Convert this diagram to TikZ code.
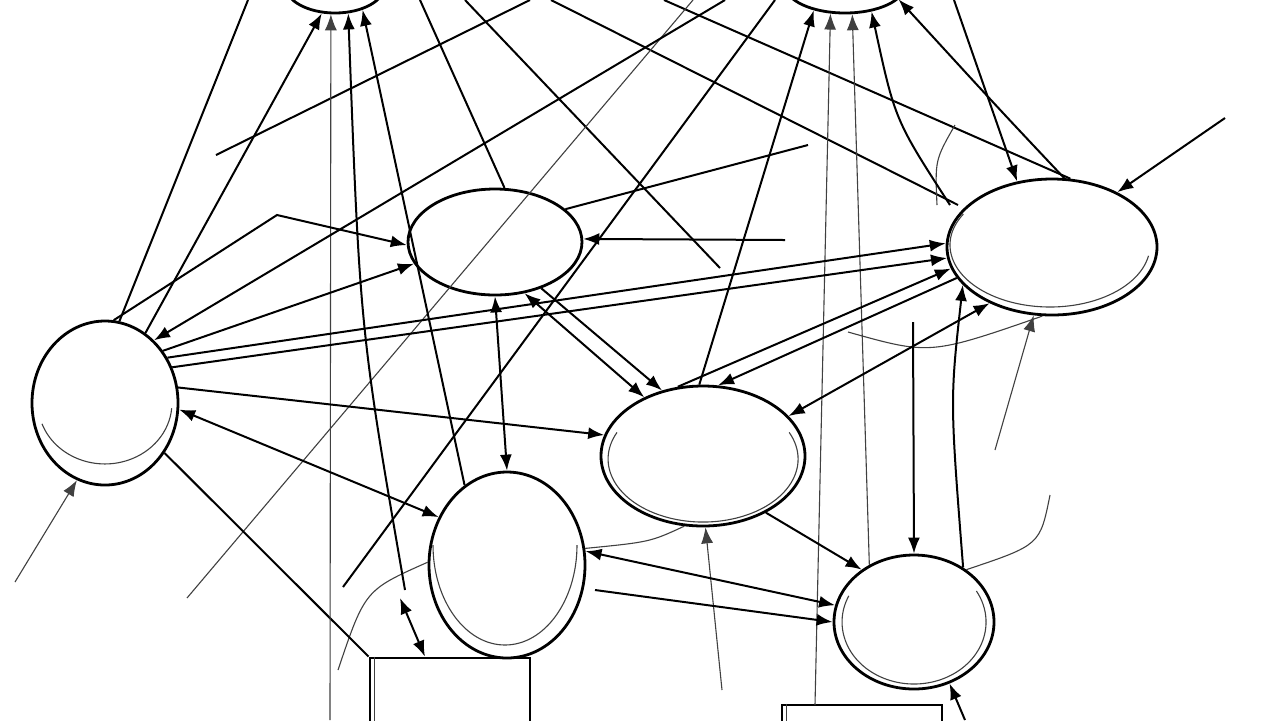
\documentclass[tikz,border=0pt]{standalone}
\usepackage{tikz}
\usetikzlibrary{shapes.geometric,arrows.meta}

\tikzset{
  state/.style={ellipse, draw, line width=1.4pt, inner sep=0pt},
  box/.style={rectangle, draw, line width=1.4pt, inner sep=0pt},
  wire/.style={line width=1pt},
  faint/.style={line width=0.55pt, black!75},
  inner/.style={line width=0.55pt, black!75},
  >={Latex[length=8pt,width=6pt]}
}

\begin{document}
\begin{tikzpicture}[x=0.5pt,y=-0.5pt]
				\clip (0,0) rectangle (1280,720);
				\fill[white] (0,0) rectangle (1280,720);

				% the states
				\node [state, minimum width=50pt, minimum height=28pt]  (A) at (335,-15)  {};
				\node [state, minimum width=60pt, minimum height=28pt]  (B) at (845,-15)  {};
				\node [state, minimum width=87pt, minimum height=53pt]  (C) at (495,242)  {};
				\node [state, minimum width=105pt, minimum height=68pt] (D) at (1052,247) {};
				\node [state, minimum width=73pt, minimum height=82pt]  (E) at (105,403)  {};
				\node [state, minimum width=102pt, minimum height=70pt] (F) at (703,456)  {};
				\node [state, minimum width=78pt, minimum height=93pt]  (G) at (507,565)  {};
				\node [state, minimum width=80pt, minimum height=67pt]  (H) at (914,622)  {};
				\node [box, minimum width=80pt, minimum height=42pt]    (box1) at (450,700) {};
				\node [box, minimum width=80pt, minimum height=40pt]    (box2) at (862,745) {};

				% sketchy inner rims
				\draw [inner] ([shift={(-31.5pt,-10.4pt)}]E.center) arc [start angle=200, end angle=355, x radius=33.5pt, y radius=30.5pt];
				\draw [inner] ([shift={(-37pt,10pt)}]G.center) arc [start angle=180, end angle=360, x radius=36pt, y radius=50pt];
				\draw [inner] ([shift={(-43pt,11.8pt)}]F.center) arc [start angle=155, end angle=385, x radius=47.5pt, y radius=31.5pt];
				\draw [inner] ([shift={(-32.6pt,13.1pt)}]H.center) arc [start angle=155, end angle=390, x radius=36pt, y radius=31pt];
				\draw [inner] ([shift={(-44.3pt,16.5pt)}]D.center) arc [start angle=150, end angle=350, x radius=50pt, y radius=31pt];
				\draw [inner] ([xshift=3pt]box1.north west) -- ([xshift=3pt]box1.south west);
				\draw [inner] ([xshift=3pt]box2.north west) -- ([xshift=3pt]box2.south west);

				% loose ends
				\coordinate (l1)   at (248,0);
				\coordinate (bend) at (277,215);
				\coordinate (tE)   at (725,0);
				\coordinate (inE)  at (15,582);
				\coordinate (bot1) at (330,720);
				\coordinate (k1)   at (405,590);
				\coordinate (k2)   at (400,598);
				\coordinate (t1)   at (216,155);
				\coordinate (t2)   at (530,0);
				\coordinate (t3)   at (420,0);
				\coordinate (t4)   at (465,0);
				\coordinate (t5)   at (720,268);
				\coordinate (t6)   at (551,0);
				\coordinate (t7)   at (958,205);
				\coordinate (t8)   at (664,0);
				\coordinate (t9)   at (775,0);
				\coordinate (t10)  at (343,587);
				\coordinate (t11)  at (693,0);
				\coordinate (t12)  at (187,598);
				\coordinate (t13)  at (338,670);
				\coordinate (c1)   at (785,240);
				\coordinate (c2)   at (808,145);
				\coordinate (d1)   at (954,0);
				\coordinate (d2)   at (1225,118);
				\coordinate (d3)   at (995,450);
				\coordinate (d4)   at (913,322);
				\coordinate (d5)   at (848,332);
				\coordinate (b1)   at (950,205);
				\coordinate (e1)   at (815,705);
				\coordinate (f1)   at (722,690);
				\coordinate (g1)   at (595,590);
				\coordinate (h1)   at (965,720);
				\coordinate (h2)   at (1050,495);
				\coordinate (s1)   at (955,125);
				\coordinate (s2)   at (937,205);

				% plain lines
				\draw [wire] (E.80) -- (l1);
				\draw [wire] (t1) -- (t2);
				\draw [wire] (t3) -- (C.80);
				\draw [wire] (t4) -- (t5);
				\draw [wire] (t6) -- (t7);
				\draw [wire] (t8) -- (D.75);
				\draw [wire] (t9) -- (t10);
				\draw [faint] (t11) -- (t12);
				\draw [faint] (t13) .. controls (365,590) .. (G.178);
				\draw [wire] (C.25) -- (c2);
				\draw [wire] (E.-40) -- (box1.north west);
				\draw [faint] (d5) .. controls (930,355) .. (D.262);
				\draw [faint] (s1) .. controls (935,160) .. (s2);
				\draw [faint] (G.12) .. controls (650,542) .. (F.255);
				\draw [faint] (H.45) .. controls (1040,545) .. (h2);

				% into A
				\draw [wire,->] (E.60) -- (A.245);
				\draw [faint,->] (bot1) -- (A.262);
				\draw [wire,->] (k1) .. controls (360,330) .. (A.295);
				\draw [wire,->] (G.118) -- (A.318);

				% into B
				\draw [wire,->] (F.93) -- (B.219);
				\draw [faint,->] (e1) -- (B.243);
				\draw [faint,->] (H.128) -- (B.284);
				\draw [wire,->] (b1) .. controls (895,120) .. (B.315);
				\draw [wire,->] (D.80) .. controls (1000,110) .. (B.345);

				% around E
				\draw [wire,->] (E.84) -- (bend) -- (C.182);
				\draw [wire,->] (tE) -- (E.52);
				\draw [wire,->] (E.42) -- (C.195);
				\draw [wire,->] (E.36) -- (D.178);
				\draw [wire,->] (E.28) -- (D.186);
				\draw [wire,->] (E.12) -- (F.168);
				\draw [wire,<->] (E.355) -- (G.145);
				\draw [faint,->] (inE) -- (E.250);

				% around C
				\draw [wire,->] (c1) -- (C.2);
				\draw [wire,<->] (C.270) -- (G.90);
				\draw [wire,<->] (C.300) -- (F.135);
				\draw [wire,->] (C.315) -- (F.122);

				% around D
				\draw [wire,->] (d1) -- (D.118);
				\draw [wire,->] (d2) -- (D.40);
				\draw [wire,->] (F.110) -- (D.192);
				\draw [wire,->] (D.198) -- (F.78);
				\draw [wire,<->] (F.25) -- (D.222);
				\draw [wire,->] (H.48) .. controls (950,400) .. (D.203);
				\draw [faint,->] (d3) -- (D.255);

				% around F, G, H
				\draw [faint,->] (f1) -- (F.272);
				\draw [wire,->] (F.-42) -- (H.135);
				\draw [wire,->] (d4) -- (H.90);
				\draw [wire,<->] (G.10) -- (H.168);
				\draw [wire,->] (g1) -- (H.180);
				\draw [wire,<->] (k2) -- (box1.120);
				\draw [wire,->] (h1) -- (H.300);
\end{tikzpicture}
\end{document}
